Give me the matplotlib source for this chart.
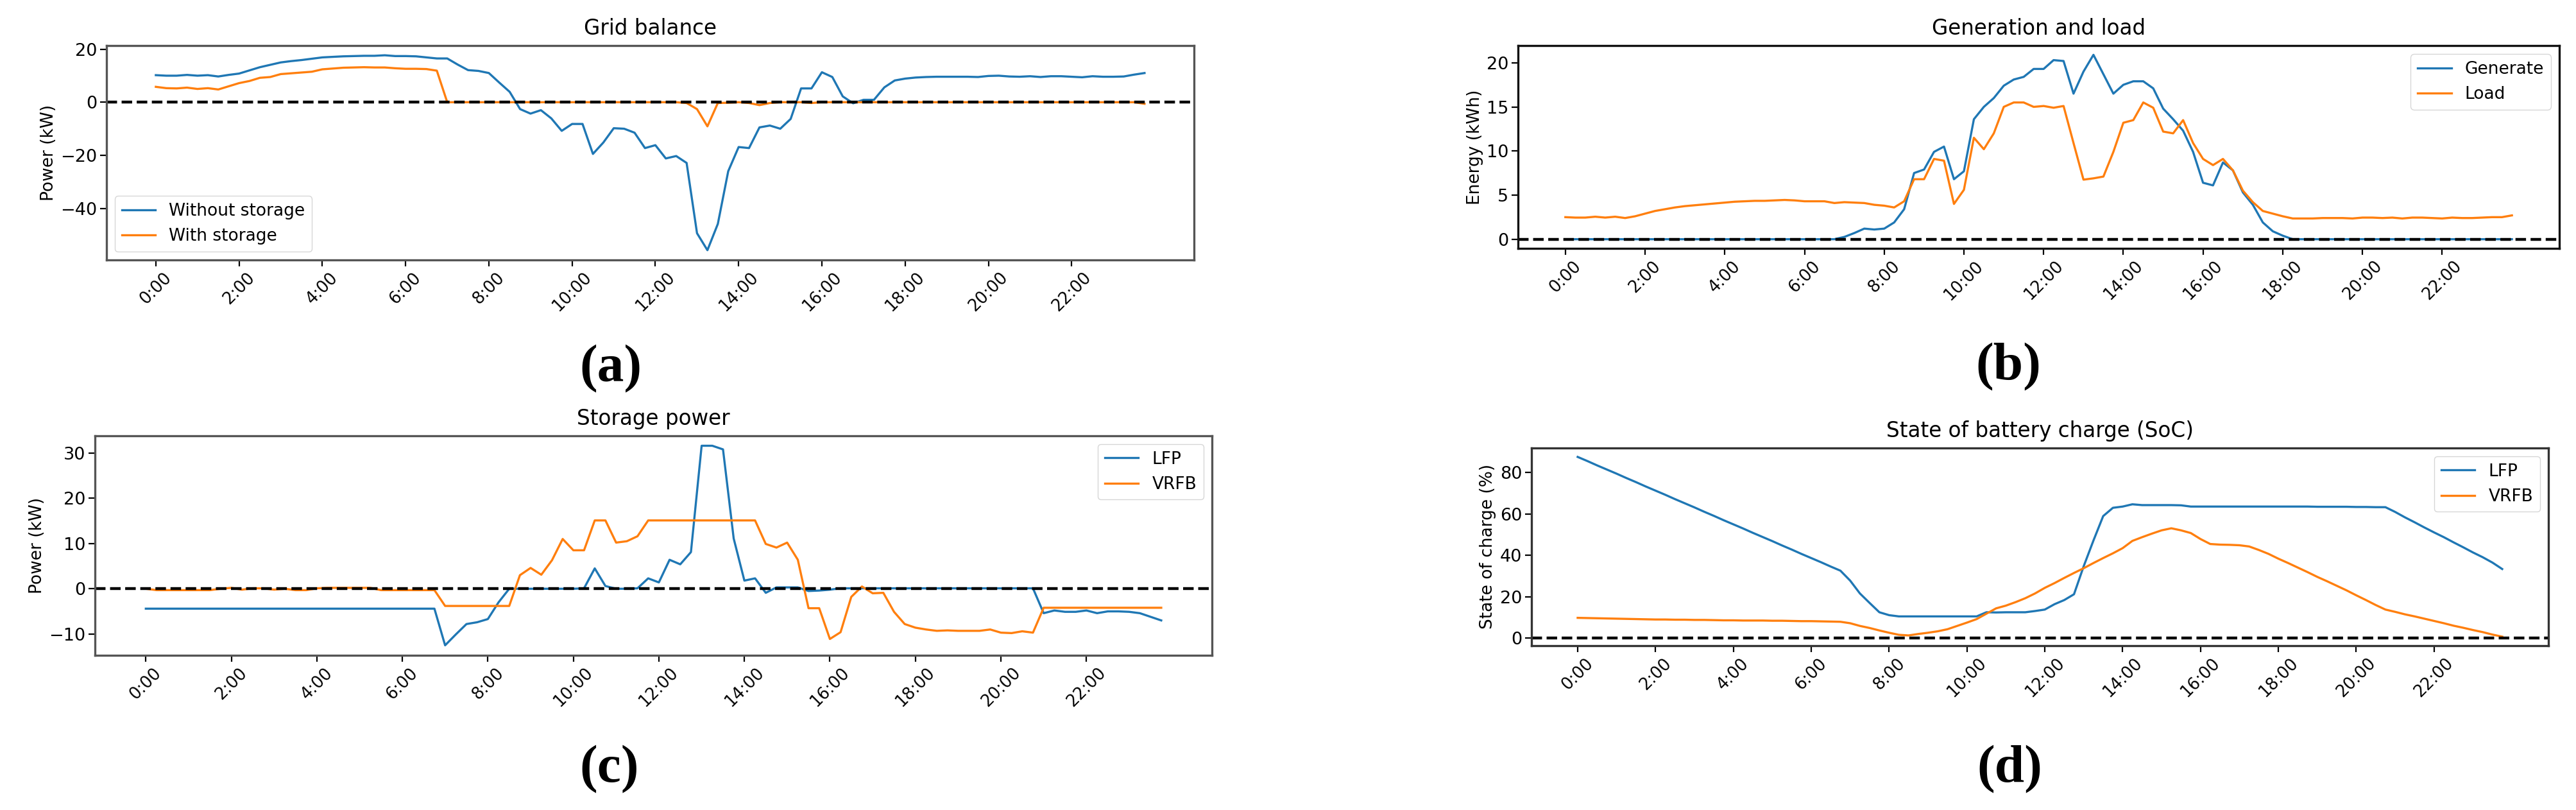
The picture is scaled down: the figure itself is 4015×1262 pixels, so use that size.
import numpy as np
import matplotlib
matplotlib.use('Agg')
import matplotlib.pyplot as plt

# Время суток: шаг 15 минут, 96 точек
hours = np.arange(96) * 0.25
tick_hours = list(range(0, 24, 2))
tick_labels = [f"{h}:00" for h in tick_hours]

# (a) Баланс сети, кВт
grid_without_storage = [
    10.2, 10.0, 10.0, 10.3, 10.0, 10.2, 9.7, 10.3,
    10.8, 12.0, 13.2, 14.1, 15.0, 15.5, 15.9, 16.4,
    16.9, 17.1, 17.3, 17.4, 17.5, 17.5, 17.7, 17.4,
    17.4, 17.3, 16.9, 16.5, 16.5, 14.2, 12.1, 11.8,
    11.0, 7.4, 3.9, -2.6, -4.3, -3.0, -6.1, -10.8,
    -8.2, -8.2, -19.5, -15.2, -9.8, -10.0, -11.5, -17.3,
    -16.2, -21.2, -20.3, -22.9, -49.4, -55.8, -45.9, -26.0,
    -16.9, -17.3, -9.5, -8.8, -10.0, -6.3, 5.2, 5.2,
    11.3, 9.5, 2.2, -0.4, 0.9, 0.9, 5.6, 8.2,
    8.9, 9.3, 9.5, 9.6, 9.6, 9.6, 9.6, 9.5,
    9.9, 10.0, 9.7, 9.6, 9.8, 9.5, 9.8, 9.8,
    9.6, 9.4, 9.8, 9.6, 9.6, 9.7, 10.4, 11.0,
]
grid_with_storage = [
    5.8, 5.3, 5.2, 5.5, 5.0, 5.3, 4.8, 6.0,
    7.2, 8.0, 9.2, 9.5, 10.6, 10.9, 11.2, 11.5,
    12.4, 12.7, 13.0, 13.1, 13.2, 13.1, 13.1, 12.8,
    12.6, 12.6, 12.5, 11.9, 0.0, 0.0, 0.0, 0.0,
    0.0, 0.0, 0.0, 0.0, 0.0, 0.0, 0.0, 0.0,
    0.0, 0.0, 0.0, 0.0, 0.0, 0.0, 0.0, 0.0,
    0.0, 0.0, 0.0, -0.3, -2.6, -9.1, -0.3, -0.2,
    0.0, -0.3, -1.1, -0.3, 0.0, 0.0, 0.0, -0.3,
    0.0, 0.0, 0.0, 0.0, 0.0, 0.0, 0.0, 0.0,
    0.0, 0.0, 0.0, 0.0, 0.0, 0.0, 0.0, 0.0,
    0.0, 0.0, 0.0, 0.0, 0.0, 0.0, 0.0, 0.0,
    0.0, 0.0, 0.0, 0.0, 0.0, 0.0, 0.0, -0.6,
]

# (b) Генерация и нагрузка, кВт*ч
generation = [
    0, 0, 0, 0, 0, 0, 0, 0,
    0, 0, 0, 0, 0, 0, 0, 0,
    0, 0, 0, 0, 0, 0, 0, 0,
    0, 0, 0, 0, 0.26, 0.7, 1.2, 1.1,
    1.2, 1.9, 3.4, 7.5, 7.9, 9.9, 10.5, 6.8,
    7.7, 13.6, 15.0, 16.0, 17.4, 18.1, 18.4, 19.3,
    19.3, 20.3, 20.2, 16.5, 19.0, 20.9, 18.7, 16.5,
    17.5, 17.9, 17.9, 17.1, 14.8, 13.6, 12.3, 9.9,
    6.4, 6.1, 8.7, 7.8, 5.3, 3.9, 1.9, 0.9,
    0.4, 0, 0, 0, 0, 0, 0, 0,
    0, 0, 0, 0, 0, 0, 0, 0,
    0, 0, 0, 0, 0, 0, 0, 0,
]
load = [
    2.5, 2.45, 2.45, 2.55, 2.45, 2.55, 2.4, 2.6,
    2.9, 3.2, 3.4, 3.6, 3.75, 3.85, 3.95, 4.05,
    4.15, 4.25, 4.3, 4.35, 4.35, 4.4, 4.45, 4.4,
    4.3, 4.3, 4.3, 4.1, 4.2, 4.15, 4.1, 3.9,
    3.8, 3.6, 4.3, 6.8, 6.8, 9.1, 8.9, 4.0,
    5.6, 11.5, 10.2, 12.0, 15.0, 15.5, 15.5, 15.0,
    15.1, 14.9, 15.1, 10.9, 6.75, 6.9, 7.1, 9.9,
    13.2, 13.5, 15.5, 14.9, 12.2, 12.0, 13.5, 10.9,
    9.1, 8.4, 9.1, 7.8, 5.5, 4.2, 3.2, 2.9,
    2.6, 2.35, 2.35, 2.35, 2.4, 2.4, 2.4, 2.35,
    2.45, 2.45, 2.4, 2.45, 2.35, 2.45, 2.45, 2.4,
    2.35, 2.45, 2.4, 2.4, 2.45, 2.5, 2.5, 2.7,
]

# (c) Мощность накопителей, кВт
lfp_power = [
    -4.4, -4.4, -4.4, -4.4, -4.4, -4.4, -4.4, -4.4,
    -4.4, -4.4, -4.4, -4.4, -4.4, -4.4, -4.4, -4.4,
    -4.4, -4.4, -4.4, -4.4, -4.4, -4.4, -4.4, -4.4,
    -4.4, -4.4, -4.4, -4.4, -12.5, -10.1, -7.8, -7.4,
    -6.7, -3.0, 0.0, 0.0, 0.0, 0.0, 0.0, 0.0,
    0.0, 0.1, 4.5, 0.6, 0.0, 0.0, 0.1, 2.3,
    1.4, 6.4, 5.4, 8.1, 31.6, 31.6, 30.8, 11.1,
    1.8, 2.3, -0.9, 0.3, 0.3, 0.3, -0.5, -0.4,
    -0.2, 0.1, 0.1, 0.1, 0.1, 0.1, 0.1, 0.1,
    0.1, 0.1, 0.1, 0.1, 0.1, 0.1, 0.1, 0.1,
    0.1, 0.1, 0.1, 0.1, -5.4, -4.8, -5.1, -5.1,
    -4.8, -5.4, -5.0, -5.0, -5.1, -5.4, -6.2, -7.0,
]
vrfb_power = [
    0.0, -0.3, -0.3, -0.3, -0.3, -0.3, -0.3, 0.0,
    0.2, -0.2, 0.1, 0.1, -0.2, 0.0, -0.3, -0.3,
    0.1, 0.2, 0.2, 0.2, 0.2, 0.2, -0.3, -0.3,
    -0.3, -0.3, -0.3, -0.3, -3.8, -3.8, -3.8, -3.8,
    -3.8, -3.8, -3.8, 3.0, 4.6, 3.1, 6.3, 11.0,
    8.5, 8.5, 15.1, 15.1, 10.2, 10.5, 11.6, 15.1,
    15.1, 15.1, 15.1, 15.1, 15.1, 15.1, 15.1, 15.1,
    15.1, 15.1, 9.9, 9.1, 10.2, 6.4, -4.3, -4.3,
    -11.1, -9.6, -1.8, 0.5, -1.0, -0.9, -5.1, -7.8,
    -8.6, -9.0, -9.3, -9.2, -9.3, -9.3, -9.3, -9.0,
    -9.7, -9.8, -9.4, -9.7, -4.2, -4.2, -4.2, -4.2,
    -4.2, -4.2, -4.2, -4.2, -4.2, -4.2, -4.2, -4.2,
]

# (d) Степень заряда, %
lfp_soc = [
    87.6, 85.6, 83.5, 81.5, 79.5, 77.4, 75.4, 73.3,
    71.3, 69.3, 67.2, 65.2, 63.2, 61.1, 59.1, 57.0,
    55.0, 53.0, 50.9, 48.9, 46.9, 44.8, 42.8, 40.7,
    38.7, 36.7, 34.6, 32.6, 27.8, 21.6, 17.0, 12.5,
    11.1, 10.5, 10.5, 10.5, 10.5, 10.5, 10.5, 10.5,
    10.5, 10.5, 12.5, 12.4, 12.5, 12.5, 12.5, 13.1,
    13.8, 16.4, 18.4, 21.2, 34.8, 47.2, 59.0, 63.0,
    63.6, 64.7, 64.3, 64.3, 64.3, 64.3, 64.2, 63.6,
    63.6, 63.6, 63.6, 63.6, 63.6, 63.6, 63.6, 63.6,
    63.6, 63.6, 63.6, 63.6, 63.5, 63.5, 63.5, 63.5,
    63.4, 63.4, 63.3, 63.3, 61.0, 58.4, 56.0, 53.5,
    51.1, 48.8, 46.3, 43.9, 41.4, 39.1, 36.5, 33.4,
]
vrfb_soc = [
    9.8, 9.7, 9.6, 9.5, 9.4, 9.3, 9.2, 9.1,
    9.0, 9.0, 8.9, 8.9, 8.8, 8.8, 8.7, 8.6,
    8.6, 8.5, 8.5, 8.5, 8.4, 8.4, 8.3, 8.2,
    8.2, 8.1, 8.0, 7.9, 7.2, 5.9, 4.9, 3.7,
    2.6, 1.6, 1.3, 2.0, 2.6, 3.3, 4.3, 5.9,
    7.5, 9.2, 11.8, 14.4, 15.7, 17.4, 19.3, 21.6,
    24.3, 26.6, 29.1, 31.5, 33.8, 36.3, 38.7, 41.0,
    43.5, 47.0, 48.8, 50.5, 52.1, 53.1, 52.1, 50.8,
    47.9, 45.5, 45.2, 45.1, 44.9, 44.3, 42.6, 40.7,
    38.4, 36.3, 34.1, 31.9, 29.6, 27.5, 25.3, 23.1,
    20.7, 18.4, 16.0, 13.8, 12.7, 11.5, 10.5, 9.4,
    8.3, 7.2, 6.0, 5.0, 3.9, 2.9, 1.7, 0.7,
]

plt.rcParams['font.family'] = 'DejaVu Sans'
plt.rcParams['font.size'] = 19.5

fig = plt.figure(figsize=(40.15, 12.62), dpi=100)


def draw_panel(rect, title, ylabel, series, names, legend_loc, spine_color, yticks):
    ax = fig.add_axes(rect)
    for values, name in zip(series, names):
        ax.plot(hours, values, lw=2.4, label=name)
    ax.axhline(0, color='black', linestyle='--', lw=3.2)
    ax.set_xticks(tick_hours)
    ax.set_xticklabels(tick_labels, rotation=45, fontsize=18.5)
    ax.set_yticks(yticks)
    ax.set_title(title, fontsize=23.5, pad=12)
    ax.set_ylabel(ylabel, fontsize=19)
    ax.tick_params(length=7, width=1.6)
    for s in ax.spines.values():
        s.set_color(spine_color)
        s.set_linewidth(2.4)
    ax.legend(loc=legend_loc, fontsize=19)
    return ax


# Панель (a)
draw_panel([0.0413, 0.6791, 0.4222, 0.2647], "Grid balance", "Power (kW)",
           [grid_without_storage, grid_with_storage], ["Without storage", "With storage"],
           'lower left', '#555555', [-40, -20, 0, 20])

# Панель (b)
draw_panel([0.5893, 0.6933, 0.4042, 0.2504], "Generation and load", "Energy (kWh)",
           [generation, load], ["Generate", "Load"],
           'upper right', '#111111', [0, 5, 10, 15, 20])

# Панель (c)
draw_panel([0.0369, 0.1910, 0.4336, 0.2710], "Storage power", "Power (kW)",
           [lfp_power, vrfb_power], ["LFP", "VRFB"],
           'upper right', '#555555', [-10, 0, 10, 20, 30])

# Панель (d)
draw_panel([0.5945, 0.2029, 0.3948, 0.2441], "State of battery charge (SoC)", "State of charge (%)",
           [lfp_soc, vrfb_soc], ["LFP", "VRFB"],
           'upper right', '#333333', [0, 20, 40, 60, 80])

# Подписи панелей
panel_letters = ["(a)", "(b)", "(c)", "(d)"]
letter_pos = [(952 / 4015, 1 - 575 / 1262), (3130 / 4015, 1 - 572 / 1262),
              (950 / 4015, 1 - 1199 / 1262), (3132 / 4015, 1 - 1199 / 1262)]
for letter, (x, y) in zip(panel_letters, letter_pos):
    fig.text(x, y, letter, ha='center', va='center', fontsize=60,
             fontweight='bold', family='Liberation Serif')

fig.savefig('out.png', dpi=100)
